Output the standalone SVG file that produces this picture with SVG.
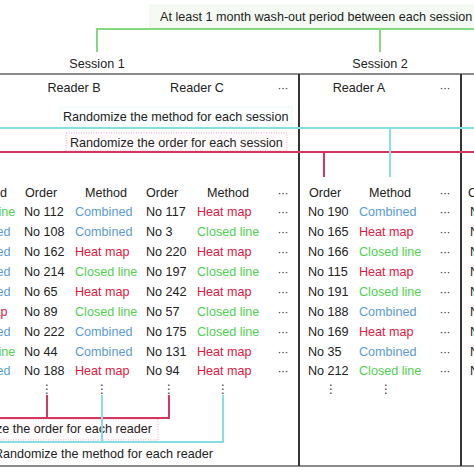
<svg xmlns="http://www.w3.org/2000/svg" width="474" height="474" viewBox="0 0 474 474">
<style>
text{font-family:"Liberation Sans",Arial,sans-serif;font-size:12.6px;fill:#222}
.m{text-anchor:middle}
.e{text-anchor:end}
.cb{fill:#5b9bd5}
.hm{fill:#e0193f}
.cl{fill:#52d052}
.dots{font-family:"DejaVu Sans",sans-serif;font-size:11px;text-anchor:middle;fill:#333}
.vd{font-family:"DejaVu Sans",sans-serif;font-size:12px;text-anchor:middle;fill:#333}
.g{stroke:#84d87e;stroke-width:2;fill:none}
.c{stroke:#86dfe6;stroke-width:2;fill:none}
.r{stroke:#d4365e;stroke-width:2;fill:none}
.k{stroke:#333;stroke-width:2;fill:none}
.gr{stroke:#666;stroke-width:1.5;fill:none}
</style>
<rect width="474" height="474" fill="#fff"/>

<g id="washout">
<rect x="150" y="5" width="330" height="23" fill="#f5fbf4" stroke="#dcefd9" stroke-width="1" stroke-dasharray="1,1"/>
<text x="160" y="21">At least 1 month wash-out period between each session</text>
</g>
<g id="session1"><text class="m" x="97" y="68">Session 1</text></g>
<g id="session2"><text class="m" x="380" y="68">Session 2</text></g>

<g id="frame">
<line class="gr" x1="0" y1="74" x2="474" y2="74"/>
<line class="gr" x1="0" y1="466" x2="474" y2="466"/>
<line class="k" x1="299" y1="74" x2="299" y2="466"/>
<line class="k" x1="461" y1="74" x2="461" y2="466"/>
</g>

<g id="readers">
<text class="m" x="74" y="92">Reader B</text>
<text class="m" x="197" y="92">Reader C</text>
<text class="dots" x="283" y="92">···</text>
<text class="m" x="359" y="92">Reader A</text>
<text class="dots" x="445" y="92">···</text>
</g>

<g id="rand-method-session">
<rect x="60" y="107" width="232" height="20" fill="#fbfefe" stroke="#dff5f7" stroke-width="1" stroke-dasharray="1,1"/>
<text x="63" y="121">Randomize the method for each session</text>
</g>
<g id="rand-order-session">
<rect x="66" y="133" width="221" height="18" fill="#fffafb" stroke="#f0a6bb" stroke-width="1" stroke-dasharray="1,1.5"/>
<text x="70" y="147">Randomize the order for each session</text>
</g>

<g id="headers">
<text class="m" x="-14" y="197">Method</text>
<text class="m" x="41" y="197">Order</text>
<text class="m" x="106" y="197">Method</text>
<text class="m" x="162" y="197">Order</text>
<text class="m" x="228" y="197">Method</text>
<text class="dots" x="283" y="197">···</text>
<text class="m" x="325" y="197">Order</text>
<text class="m" x="390" y="197">Method</text>
<text class="dots" x="445" y="197">···</text>
<text x="468" y="197">Order</text>
</g>

<g id="reader-left-method">
<text class="cl" x="-47" y="216">Closed line</text>
<text class="cb" x="-47" y="236">Combined</text>
<text class="cb" x="-47" y="256">Combined</text>
<text class="cb" x="-47" y="276">Combined</text>
<text class="cb" x="-47" y="296">Combined</text>
<text class="hm" x="-47" y="315.5">Heat map</text>
<text class="cb" x="-47" y="335.5">Combined</text>
<text class="cl" x="-47" y="355.5">Closed line</text>
<text class="cb" x="-47" y="375">Combined</text>
</g>

<g id="readerB">
<text x="24" y="216">No 112</text><text class="cb" x="75" y="216">Combined</text>
<text x="24" y="236">No 108</text><text class="cb" x="75" y="236">Combined</text>
<text x="24" y="256">No 162</text><text class="hm" x="75" y="256">Heat map</text>
<text x="24" y="276">No 214</text><text class="cl" x="75" y="276">Closed line</text>
<text x="24" y="296">No 65</text><text class="hm" x="75" y="296">Heat map</text>
<text x="24" y="315.5">No 89</text><text class="cl" x="75" y="315.5">Closed line</text>
<text x="24" y="335.5">No 222</text><text class="cb" x="75" y="335.5">Combined</text>
<text x="24" y="355.5">No 44</text><text class="cb" x="75" y="355.5">Combined</text>
<text x="24" y="375">No 188</text><text class="hm" x="75" y="375">Heat map</text>
<text class="vd" x="47" y="393">⋮</text>
<text class="vd" x="102" y="393">⋮</text>
</g>

<g id="readerC">
<text x="146" y="216">No 117</text><text class="hm" x="197" y="216">Heat map</text>
<text x="146" y="236">No 3</text><text class="cl" x="197" y="236">Closed line</text>
<text x="146" y="256">No 220</text><text class="hm" x="197" y="256">Heat map</text>
<text x="146" y="276">No 197</text><text class="cl" x="197" y="276">Closed line</text>
<text x="146" y="296">No 242</text><text class="hm" x="197" y="296">Heat map</text>
<text x="146" y="315.5">No 57</text><text class="cl" x="197" y="315.5">Closed line</text>
<text x="146" y="335.5">No 175</text><text class="cl" x="197" y="335.5">Closed line</text>
<text x="146" y="355.5">No 131</text><text class="hm" x="197" y="355.5">Heat map</text>
<text x="146" y="375">No 94</text><text class="hm" x="197" y="375">Heat map</text>
<text class="vd" x="169" y="393">⋮</text>
<text class="vd" x="223" y="393">⋮</text>
</g>

<g id="more1">
<text class="dots" x="283" y="216">···</text>
<text class="dots" x="283" y="236">···</text>
<text class="dots" x="283" y="256">···</text>
<text class="dots" x="283" y="276">···</text>
<text class="dots" x="283" y="296">···</text>
<text class="dots" x="283" y="315.5">···</text>
<text class="dots" x="283" y="335.5">···</text>
<text class="dots" x="283" y="355.5">···</text>
<text class="dots" x="283" y="375">···</text>
</g>

<g id="readerA">
<text x="308" y="216">No 190</text><text class="cb" x="359" y="216">Combined</text>
<text x="308" y="236">No 165</text><text class="hm" x="359" y="236">Heat map</text>
<text x="308" y="256">No 166</text><text class="cl" x="359" y="256">Closed line</text>
<text x="308" y="276">No 115</text><text class="hm" x="359" y="276">Heat map</text>
<text x="308" y="296">No 191</text><text class="cl" x="359" y="296">Closed line</text>
<text x="308" y="315.5">No 188</text><text class="cb" x="359" y="315.5">Combined</text>
<text x="308" y="335.5">No 169</text><text class="hm" x="359" y="335.5">Heat map</text>
<text x="308" y="355.5">No 35</text><text class="cb" x="359" y="355.5">Combined</text>
<text x="308" y="375">No 212</text><text class="cl" x="359" y="375">Closed line</text>
<text class="vd" x="331" y="393">⋮</text>
<text class="vd" x="386" y="393">⋮</text>
</g>

<g id="more2">
<text class="dots" x="445" y="216">···</text>
<text class="dots" x="445" y="236">···</text>
<text class="dots" x="445" y="256">···</text>
<text class="dots" x="445" y="276">···</text>
<text class="dots" x="445" y="296">···</text>
<text class="dots" x="445" y="315.5">···</text>
<text class="dots" x="445" y="335.5">···</text>
<text class="dots" x="445" y="355.5">···</text>
<text class="dots" x="445" y="375">···</text>
</g>

<g id="readerNext">
<text x="470" y="216">No</text><text x="470" y="236">No</text><text x="470" y="256">No</text>
<text x="470" y="276">No</text><text x="470" y="296">No</text><text x="470" y="315.5">No</text>
<text x="470" y="335.5">No</text><text x="470" y="355.5">No</text><text x="470" y="375">No</text>
</g>

<g id="rand-order-reader">
<rect x="-2" y="419" width="160" height="21" fill="#fffafb" stroke="#f0a6bb" stroke-width="1" stroke-dasharray="1,1.5"/>
<text class="e" x="152" y="433">Randomize the order for each reader</text>
</g>
<g id="rand-method-reader">
<text class="e" x="213" y="458">Randomize the method for each reader</text>
</g>

<g id="connectors">
<polyline class="g" points="97,52 97,29 474,29"/>
<line class="g" x1="380" y1="29" x2="380" y2="52"/>
<line class="c" x1="0" y1="128" x2="474" y2="128"/>
<line class="r" x1="0" y1="152" x2="474" y2="152"/>
<line class="r" x1="324" y1="152" x2="324" y2="177"/>
<line class="c" x1="390" y1="128" x2="390" y2="177"/>
<polyline class="r" points="47,395 47,418 0,418"/>
<polyline class="r" points="169,395 169,418 47,418"/>
<polyline class="c" points="102,395 102,442 0,442"/>
<polyline class="c" points="223,395 223,442 102,442"/>
</g>
</svg>
